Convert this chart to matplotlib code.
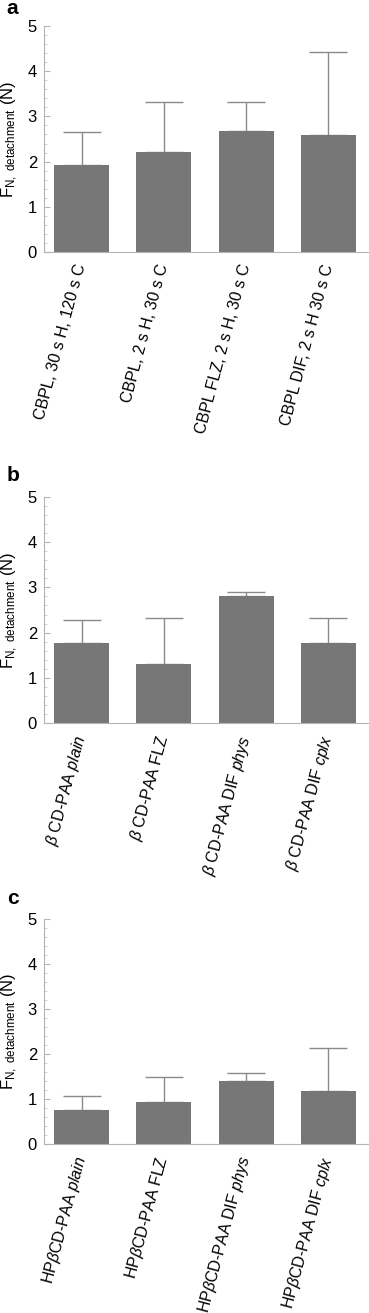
import numpy as np
import matplotlib.pyplot as plt
from matplotlib.ticker import MultipleLocator

plt.rcParams['font.family'] = ['Liberation Sans', 'DejaVu Sans']
plt.rcParams['mathtext.fontset'] = 'custom'
plt.rcParams['mathtext.rm'] = 'Liberation Sans'
plt.rcParams['mathtext.it'] = 'Liberation Sans:italic'

# panel a
labels_a = ["CBPL, 30 s H, 120 s C", "CBPL, 2 s H, 30 s C",
            "CBPL FLZ, 2 s H, 30 s C", "CBPL DIF, 2 s H 30 s C"]
means_a = [1.92, 2.22, 2.67, 2.58]
err_a = [0.73, 1.10, 0.65, 1.84]

# panel b
labels_b = [r"$\beta$ CD-PAA $\mathit{plain}$", r"$\beta$ CD-PAA FLZ",
            r"$\beta$ CD-PAA DIF $\mathit{phys}$", r"$\beta$ CD-PAA DIF $\mathit{cplx}$"]
means_b = [1.76, 1.31, 2.81, 1.77]
err_b = [0.51, 1.01, 0.08, 0.56]

# panel c
labels_c = [r"HP$\beta$CD-PAA $\mathit{plain}$", r"HP$\beta$CD-PAA FLZ",
            r"HP$\beta$CD-PAA DIF $\mathit{phys}$", r"HP$\beta$CD-PAA DIF $\mathit{cplx}$"]
means_c = [0.75, 0.94, 1.39, 1.17]
err_c = [0.31, 0.55, 0.18, 0.97]

panels = [("a", labels_a, means_a, err_a),
          ("b", labels_b, means_b, err_b),
          ("c", labels_c, means_c, err_c)]

W, H = 369, 1313
fig = plt.figure(figsize=(W / 100, H / 100), dpi=100)

# (top px, bottom px) of each axes, and panel letter centre
boxes = [(26, 252, 9), (497, 723, 475), (919, 1144, 898)]

for (letter, labels, means, errs), (top, bot, ly) in zip(panels, boxes):
    ax = fig.add_axes([44 / W, 1 - bot / H, 324 / W, (bot - top) / H])
    x = np.arange(len(means))
    ax.bar(x, means, width=0.67, color='#777777', zorder=2)
    ax.errorbar(x, means, yerr=[np.zeros(len(errs)), errs], fmt='none',
                ecolor='#8a8a8a', elinewidth=1.0, capsize=14, capthick=1.0, zorder=1)
    ax.set_xlim(-0.456, 3.48)
    ax.set_ylim(0, 5)
    ax.yaxis.set_major_locator(MultipleLocator(1))
    ax.yaxis.set_minor_locator(MultipleLocator(0.2))
    for s in ['top', 'right']:
        ax.spines[s].set_visible(False)
    for s in ['left', 'bottom']:
        ax.spines[s].set_color('#b5b5b5')
        ax.spines[s].set_linewidth(0.8)
    ax.tick_params(axis='y', which='major', direction='in', length=4, color='#b5b5b5',
                   labelsize=12, pad=5)
    ax.tick_params(axis='y', which='minor', direction='in', length=2, color='#c5c5c5')
    ax.tick_params(axis='x', length=0, pad=9)
    ax.set_xticks(x)
    ax.set_xticklabels(labels, rotation=75, ha='right', va='center',
                       rotation_mode='anchor', fontsize=11.5)
    ax.set_ylabel(r"F$_{\mathrm{N,\ detachment}}$ (N)", fontsize=12)
    ax.yaxis.set_label_coords(-0.075, 0.5)
    fig.text(0.018, 1 - ly / H, letter, fontsize=15, fontweight='bold', va='center')

fig.savefig("out.png", dpi=100)
